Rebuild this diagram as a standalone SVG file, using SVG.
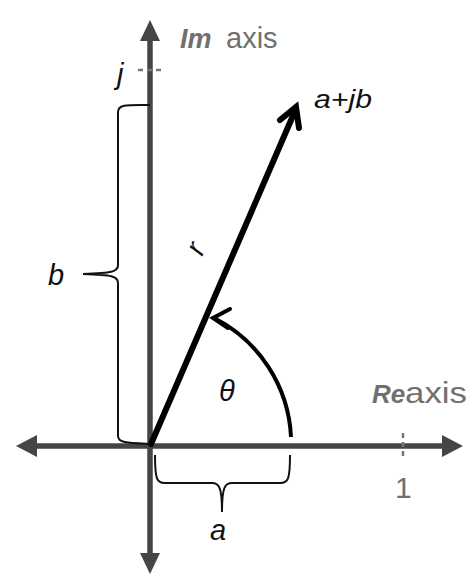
<svg xmlns="http://www.w3.org/2000/svg" width="474" height="579" viewBox="0 0 474 579">
<style>
.axis{stroke:#454545;stroke-width:5.5;fill:none}
.head{fill:#454545}
.tick{stroke:#777;stroke-width:2.5;stroke-dasharray:5 4;fill:none}
.brace{stroke:#111;stroke-width:2;fill:none}
.lbl{font-family:"Liberation Sans",Arial,sans-serif;font-style:italic;fill:#111}
.ax{font-family:"Liberation Sans",Arial,sans-serif;fill:#707070}
</style>
<rect width="474" height="579" fill="#fff"/>
<g id="connectors">
  <line class="axis" x1="150" y1="36" x2="150" y2="556"/>
  <line class="axis" x1="34" y1="446" x2="445" y2="446"/>
  <polygon class="head" points="150,20 140,41 160,41"/>
  <polygon class="head" points="150,574 140,553 160,553"/>
  <polygon class="head" points="16,446 37,435 37,457"/>
  <polygon class="head" points="463,446 442,435 442,457"/>
  <line class="tick" x1="138" y1="70" x2="162" y2="70"/>
  <line class="tick" x1="403" y1="433" x2="403" y2="458"/>
  <line x1="151" y1="444" x2="295" y2="111" stroke="#000" stroke-width="6" stroke-linecap="round"/>
  <polyline points="280,120 296,107 299,128" fill="none" stroke="#000" stroke-width="6" stroke-linecap="round" stroke-linejoin="miter"/>
  <path d="M291,437 A141,141 0 0 0 214,318" fill="none" stroke="#000" stroke-width="4"/>
  <polyline points="230,309 213,318 228,328" fill="none" stroke="#000" stroke-width="4" stroke-linecap="round"/>
  <path class="brace" d="M150,105 C128,105 118,104 118,112 L118,265 C118,272 112,273 83,274 M83,274 C112,275 118,276 118,283 L118,436 C118,443 128,443 150,444"/>
  <path class="brace" d="M155,455 C155,480 157,483 165,483 L212,483 C219,483 222,487 222,512 M222,512 C222,487 225,483 232,483 L280,483 C288,483 290,480 290,455"/>
</g>
<g id="im-label">
  <text class="ax" x="180" y="48" font-size="27" font-weight="bold" font-style="italic">Im</text>
  <text class="ax" x="226" y="48" font-size="29">axis</text>
</g>
<g id="re-label">
  <text class="ax" x="372" y="403" font-size="26" font-weight="bold" font-style="italic">Re</text>
  <text class="ax" x="405" y="403" font-size="29" textLength="62" lengthAdjust="spacingAndGlyphs">axis</text>
</g>
<g id="j-label"><text class="lbl" x="117" y="84" font-size="29" fill="#333">j</text></g>
<g id="one-label"><text class="ax" x="395" y="498" font-size="30">1</text></g>
<g id="point-label"><text class="lbl" x="314" y="108" font-size="26" textLength="58" lengthAdjust="spacingAndGlyphs">a+jb</text></g>
<g id="r-label"><text class="lbl" x="0" y="0" font-size="29" transform="translate(202,257) rotate(-64)">r</text></g>
<g id="theta-label"><text class="lbl" x="219" y="401" font-size="29">θ</text></g>
<g id="b-label"><text class="lbl" x="48" y="285" font-size="29">b</text></g>
<g id="a-label"><text class="lbl" x="210" y="540" font-size="29">a</text></g>
</svg>
